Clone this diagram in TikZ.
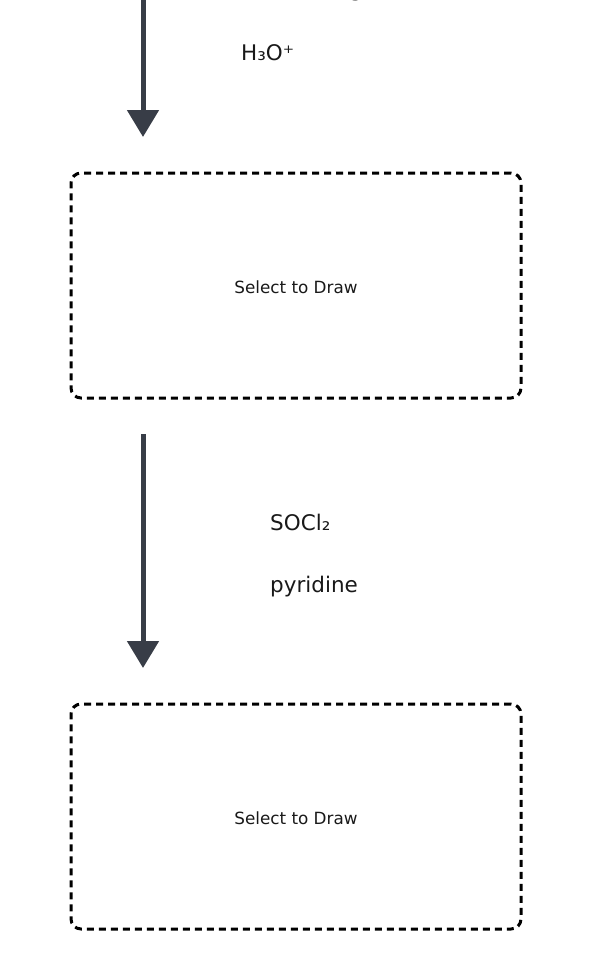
\documentclass[tikz,border=0pt]{standalone}
\usepackage{fontspec}
\setmainfont{DejaVu Sans}
\usetikzlibrary{arrows.meta}
\definecolor{arrowgray}{RGB}{56,61,71}
\definecolor{txt}{RGB}{25,25,25}
\tikzset{
  reactarrow/.style={draw=arrowgray, line width=5pt, -{Triangle[width=31pt,length=27pt]}},
  drawbox/.style={draw=black, line width=3pt, dash pattern=on 7pt off 5pt, rounded corners=10pt, minimum width=450pt, minimum height=225pt, inner sep=0pt},
  boxlabel/.style={anchor=base, inner sep=0pt, font=\fontsize{16.8}{19}\selectfont, text=txt},
  reagent/.style={anchor=base west, inner sep=0pt, font=\fontsize{21.5}{24}\selectfont, text=txt}
}
\begin{document}
\begin{tikzpicture}[x=1pt,y=-1pt]
\useasboundingbox (0,0) rectangle (598,961);
\begin{scope}
\clip (0,0) rectangle (598,961);
\node[anchor=base east, inner sep=0pt, font=\fontsize{21.5}{24}\selectfont, text=txt] (prev) at (363,-4) {g};
\coordinate (a1s) at (143,-10);
\coordinate (a1e) at (143,137);
\draw[reactarrow] (a1s) -- (a1e);
\end{scope}
\node[reagent] (h3o) at (241,60) {H₃O⁺};
\node[drawbox] (box1) at (296,285.5) {};
\node[boxlabel] (lab1) at (296,293) {Select to Draw};
\coordinate (a2s) at (143,434);
\coordinate (a2e) at (143,668);
\draw[reactarrow] (a2s) -- (a2e);
\node[reagent] (socl) at (270,530) {SOCl₂};
\node[reagent] (pyr) at (270,592) {pyridine};
\node[drawbox] (box2) at (296,816.5) {};
\node[boxlabel] (lab2) at (296,824) {Select to Draw};
\end{tikzpicture}
\end{document}
